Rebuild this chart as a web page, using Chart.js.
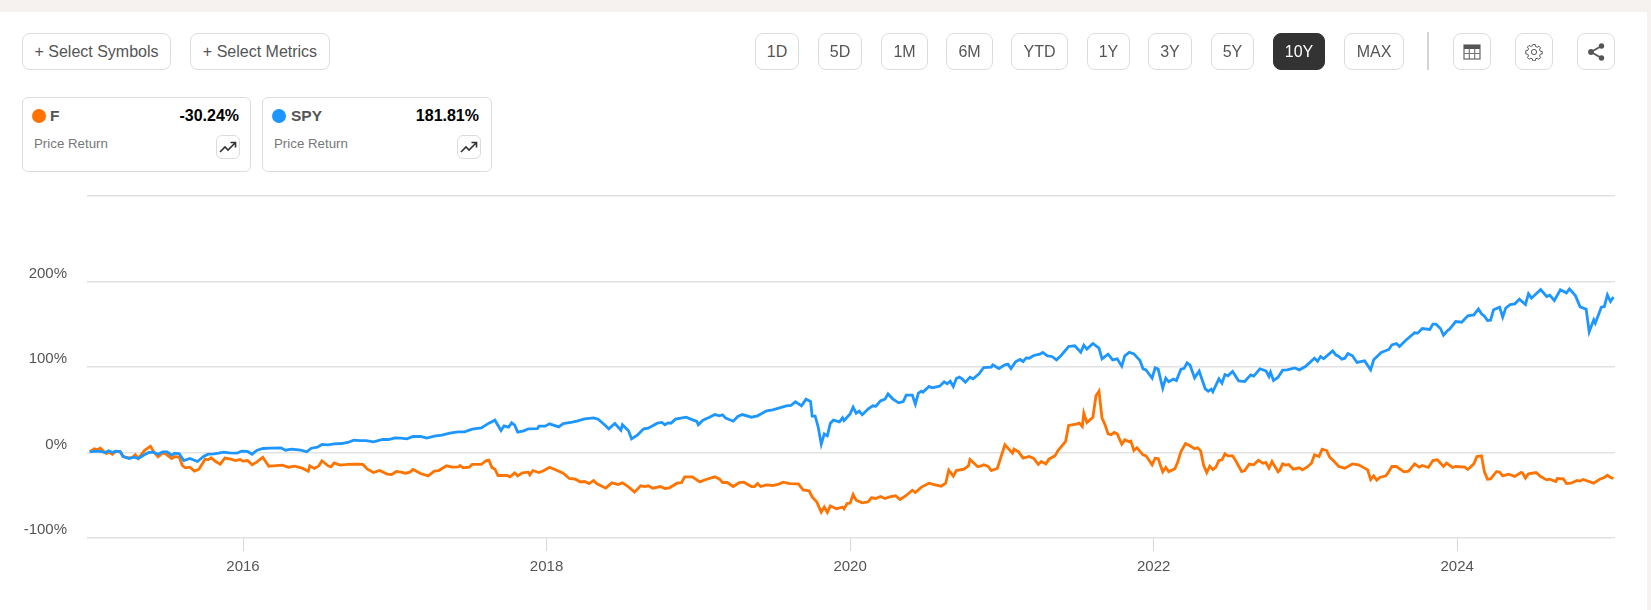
<!DOCTYPE html>
<html><head><meta charset="utf-8">
<style>
html,body{margin:0;padding:0;width:1651px;height:610px;overflow:hidden;background:#f5f2f0;font-family:"Liberation Sans",Arial,sans-serif;}
#panel{position:absolute;left:0;top:12px;width:1647px;height:598px;background:#fff;}
canvas{position:absolute;left:0;top:0;}
.b{position:absolute;top:33px;height:37px;box-sizing:border-box;border:1px solid #dcdcdc;border-radius:8px;display:flex;align-items:center;justify-content:center;color:#555;font-size:16px;background:#fff;white-space:nowrap;}
.b.on{background:#333;border-color:#333;color:#fff;}
.sep{position:absolute;left:1427px;top:32px;width:2px;height:38px;background:#d5d5d5;}
.card{position:absolute;top:97px;height:75px;box-sizing:border-box;border:1px solid #dcdcdc;border-radius:6px;background:#fff;}
.dot{position:absolute;width:14px;height:14px;border-radius:50%;top:11px;}
.sym{position:absolute;top:9px;font-size:15.5px;font-weight:bold;color:#555;line-height:18px;}
.val{position:absolute;top:9px;right:11px;font-size:16px;font-weight:bold;color:#000;line-height:18px;}
.sub{position:absolute;top:38px;font-size:13.3px;color:#777;line-height:16px;}
.ic{position:absolute;top:37px;right:10px;width:24px;height:24px;box-sizing:border-box;border:1px solid #dcdcdc;border-radius:6px;display:flex;align-items:center;justify-content:center;}
</style></head><body>
<div id="panel"></div>
<canvas id="c" width="1651" height="610"></canvas>
<div class="b" style="left:22px;width:149px">+ Select Symbols</div>
<div class="b" style="left:190px;width:140px">+ Select Metrics</div>
<div class="b" style="left:755px;width:44px">1D</div>
<div class="b" style="left:818px;width:44px">5D</div>
<div class="b" style="left:881px;width:47px">1M</div>
<div class="b" style="left:946px;width:47px">6M</div>
<div class="b" style="left:1011px;width:57px">YTD</div>
<div class="b" style="left:1087px;width:43px">1Y</div>
<div class="b" style="left:1148px;width:44px">3Y</div>
<div class="b" style="left:1211px;width:43px">5Y</div>
<div class="b on" style="left:1273px;width:52px">10Y</div>
<div class="b" style="left:1344px;width:60px">MAX</div>
<div class="sep"></div>
<div class="b" style="left:1453px;width:38px"><svg width="18" height="18" viewBox="0 0 18 18"><rect x="1" y="2" width="16" height="14" fill="none" stroke="#666" stroke-width="1.2"/><rect x="1" y="2" width="16" height="4" fill="#555"/><path d="M1 10.5H17M6.3 6V16M11.7 6V16" stroke="#777" stroke-width="1.2"/></svg></div>
<div class="b" style="left:1515px;width:38px"><svg width="18" height="18" viewBox="0 0 18 18"><circle cx="9" cy="9" r="2.6" fill="none" stroke="#555" stroke-width="1"/><path d="M7.8 1.5h2.4l.4 2 1.6.7 1.7-1.1 1.7 1.7-1.1 1.7.7 1.6 2 .4v2.4l-2 .4-.7 1.6 1.1 1.7-1.7 1.7-1.7-1.1-1.6.7-.4 2H7.8l-.4-2-1.6-.7-1.7 1.1-1.7-1.7 1.1-1.7-.7-1.6-2-.4V7.8l2-.4.7-1.6-1.1-1.7 1.7-1.7 1.7 1.1 1.6-.7z" fill="none" stroke="#555" stroke-width="1"/></svg></div>
<div class="b" style="left:1577px;width:38px"><svg width="20" height="20" viewBox="0 0 20 20"><path d="M15.5 4L5 10l10.5 6" fill="none" stroke="#555" stroke-width="1.8"/><circle cx="15.5" cy="4" r="2.7" fill="#555"/><circle cx="5" cy="10" r="2.9" fill="#555"/><circle cx="15.5" cy="16" r="2.7" fill="#555"/></svg></div>
<div class="card" style="left:22px;width:229px">
<div class="dot" style="left:9px;background:#ff7300"></div><div class="sym" style="left:27px">F</div><div class="val">-30.24%</div><div class="sub" style="left:11px">Price Return</div>
<div class="ic"><svg width="18" height="14" viewBox="0 0 18 14"><path d="M1 12l5-5 3 3 7-7M11.5 2.5H16.5V7.5" fill="none" stroke="#333" stroke-width="1.6"/></svg></div></div>
<div class="card" style="left:262px;width:230px">
<div class="dot" style="left:9px;background:#1e96ff"></div><div class="sym" style="left:28px">SPY</div><div class="val" style="right:12px">181.81%</div><div class="sub" style="left:11px">Price Return</div>
<div class="ic"><svg width="18" height="14" viewBox="0 0 18 14"><path d="M1 12l5-5 3 3 7-7M11.5 2.5H16.5V7.5" fill="none" stroke="#333" stroke-width="1.6"/></svg></div></div>
<script src="https://cdn.jsdelivr.net/npm/chart.js@4/dist/chart.umd.min.js"></script>
<script>
const seriesNames=["F","SPY"];
const yTickValues=[-100,0,100,200,300];
const xTickYears=[2016,2018,2020,2022,2024];
const spyYears=[2014.99,2015.03,2015.06,2015.09,2015.115,2015.14,2015.16,2015.19,2015.21,2015.25,2015.28,2015.31,2015.35,2015.38,2015.41,2015.44,2015.47,2015.50,2015.53,2015.55,2015.58,2015.61,2015.65,2015.70,2015.74,2015.77,2015.81,2015.84,2015.87,2015.91,2015.96,2015.99,2016.03,2016.06,2016.09,2016.13,2016.18,2016.25,2016.28,2016.32,2016.38,2016.42,2016.45,2016.49,2016.52,2016.56,2016.60,2016.65,2016.69,2016.73,2016.77,2016.81,2016.86,2016.92,2016.96,2017.00,
2017.04,2017.08,2017.12,2017.17,2017.21,2017.26,2017.31,2017.37,2017.42,2017.46,2017.51,2017.57,2017.62,2017.66,2017.70,2017.72,2017.75,2017.77,2017.79,2017.81,2017.85,2017.88,2017.94,2017.95,2017.99,2018.02,2018.08,2018.11,2018.17,2018.20,2018.25,2018.31,2018.34,2018.38,2018.41,2018.45,2018.49,2018.50,2018.54,2018.56,2018.60,2018.64,2018.67,2018.73,2018.76,2018.78,2018.80,2018.82,2018.85,2018.92,2018.95,2018.99,2019.00,2019.03,2019.07,2019.11,2019.14,
2019.16,2019.18,2019.23,2019.26,2019.29,2019.35,2019.39,2019.45,2019.49,2019.53,2019.58,2019.61,2019.64,2019.68,2019.71,2019.74,2019.75,2019.77,2019.79,2019.81,2019.83,2019.85,2019.87,2019.89,2019.93,2019.95,2019.96,2020.00,2020.02,2020.04,2020.06,2020.08,2020.12,2020.15,2020.17,2020.20,2020.23,2020.25,2020.28,2020.32,2020.35,2020.37,2020.41,2020.43,2020.45,2020.47,2020.48,2020.52,2020.54,2020.59,2020.62,2020.64,2020.66,2020.68,2020.70,2020.72,2020.74,2020.76,2020.79,2020.81,2020.85,2020.88,2020.93,2020.94,2020.98,2021.02,2021.04,2021.06,2021.09,2021.12,2021.14,2021.16,2021.18,2021.21,2021.25,
2021.27,2021.30,2021.33,2021.36,2021.39,2021.44,2021.48,2021.52,2021.54,2021.56,2021.60,2021.64,2021.66,2021.70,2021.73,2021.76,2021.79,2021.81,2021.84,2021.87,2021.91,2021.93,2021.95,2021.99,2022.01,2022.03,2022.06,2022.08,2022.10,2022.13,2022.15,2022.18,2022.20,2022.22,2022.24,2022.27,2022.30,2022.34,2022.36,2022.38,2022.39,2022.43,2022.45,2022.47,2022.49,2022.52,2022.56,2022.60,2022.64,2022.66,2022.70,2022.74,2022.76,2022.77,2022.79,2022.82,2022.85,2022.88,2022.93,2022.96,2023.00,2023.06,2023.08,2023.10,2023.12,2023.18,2023.20,
2023.22,2023.24,2023.26,2023.28,2023.31,2023.34,2023.39,2023.43,2023.45,2023.50,2023.55,2023.57,2023.60,2023.62,2023.66,2023.72,2023.74,2023.77,2023.82,2023.84,2023.86,2023.89,2023.91,2023.94,2023.95,2023.99,2024.03,2024.07,2024.11,2024.14,2024.16,2024.18,2024.20,2024.22,2024.24,2024.28,2024.30,2024.32,2024.35,2024.38,2024.41,2024.45,2024.47,2024.49,2024.55,2024.59,2024.61,2024.64,2024.68,2024.72,2024.74,2024.78,2024.81,2024.85,2024.87,2024.90,2024.91,2024.95,2024.97,2024.99,2025.01,2025.03];
const spyValues=[.8,1.6,1.2,0,2,0,1.6,1.2,-4.7,-7,-5.5,-7,-2.7,0,.4,-2,.8,.8,-3.1,-.8,-1.6,-9.4,-7,-10.5,-4.7,-2,-1.6,-.8,.4,-.4,-.8,1.6,1.2,-2,2.3,4.7,5,5.5,2.7,3.9,2.7,.8,5,6.2,9.4,9,10,10.5,11.7,14.4,14,14,12.5,15.2,15.2,17.2,
16.8,16,18.7,18.7,16.8,19.1,20.3,23,24.2,24.2,27.3,28.8,34.3,37.8,25.7,31.2,29.6,34.7,32,23.8,25.3,27.7,28,30.8,30.8,33.5,30,33.9,35.5,36.6,39.4,40.5,39,32.7,27.7,33.9,26.1,32.4,25.3,16,20.7,27.7,28.5,34.3,35.1,32.4,34.7,34.3,39,41.3,39,36.3,32.4,37.8,40.9,44.4,42.9,
44.1,40.2,36.6,42.1,44.4,41.3,42.9,48.7,49.9,51.9,54.6,55,59.3,54.6,62.4,59.6,42.5,42.5,29.6,9.7,21.8,19.5,34.3,37.8,35.9,40.5,37.4,45.2,53,46,48.3,44.1,51.1,54.6,54.2,60.4,62.4,68.6,62.8,58.1,59.6,67.1,67.1,56.5,69.4,71.7,70.6,77.2,75.6,77.6,82.7,80.3,83.4,77.2,86.5,88.1,85.8,82.3,88.1,86.2,92,99.4,99.8,102.5,98.2,102.5,103.3,98.2,106,108.8,106.4,110.7,110.3,113.5,115,
117,113.1,112.3,108.4,113.5,124,124.8,117.3,125.5,120.9,127.5,122,109.6,115,108.4,109.6,101,113.1,117.3,115.4,107.6,97.9,96.7,86.9,99,97.5,75.2,86.9,82.7,85.8,84.2,97.5,98.2,104.9,102.1,87.3,95.1,74.5,71.7,74.1,71,86.2,81.1,91.2,89.7,94.7,83.8,83,90.8,89.3,97.9,95.5,88.9,94,84.2,88.1,96.3,96.7,99,96.7,100.6,110.3,106.8,112.3,109.6,118.9,114.2,
112.3,109.2,110.3,115.8,113.1,105.3,107.2,96.7,108.4,117,120.5,125.9,127.5,124,131,140,139.6,145,143.9,150.1,150.1,145,137.2,143.1,144.2,153.2,152.4,159.8,161,168,162.2,159.5,154.4,154.8,166.9,170,158.3,168.8,173.1,173.9,179.3,173.1,185.6,180.5,190.6,182.5,184,177.8,190.3,186.7,191.4,183.2,170.4,167.6,141.1,155.2,151.3,170,170.8,184.4,176.6,181.81];
const fYears=[2014.99,2015.02,2015.04,2015.06,2015.08,2015.10,2015.115,2015.14,2015.16,2015.19,2015.21,2015.25,2015.27,2015.29,2015.31,2015.35,2015.39,2015.41,2015.44,2015.47,2015.49,2015.53,2015.55,2015.58,2015.60,2015.62,2015.65,2015.68,2015.71,2015.75,2015.77,2015.79,2015.82,2015.85,2015.88,2015.92,2015.95,2015.98,2016.00,2016.03,2016.06,2016.09,2016.13,2016.17,2016.20,2016.26,2016.30,2016.34,2016.39,2016.43,2016.44,2016.47,2016.50,2016.52,2016.56,2016.58,2016.60,2016.64,2016.69,2016.75,2016.79,2016.82,2016.86,2016.90,2016.95,2016.98,2017.01,
2017.04,2017.07,2017.10,2017.12,2017.17,2017.22,2017.26,2017.29,2017.34,2017.38,2017.42,2017.43,2017.45,2017.49,2017.51,2017.57,2017.60,2017.62,2017.64,2017.66,2017.68,2017.74,2017.76,2017.79,2017.81,2017.84,2017.88,2017.89,2017.91,2017.95,2017.98,2018.02,2018.07,2018.11,2018.15,2018.19,2018.22,2018.25,2018.28,2018.31,2018.33,2018.39,2018.43,2018.47,2018.50,2018.54,2018.58,2018.62,2018.65,2018.67,2018.70,2018.75,2018.78,2018.81,2018.86,2018.89,2018.91,2018.96,2019.01,2019.05,2019.11,2019.14,
2019.16,2019.19,2019.23,2019.27,2019.30,2019.35,2019.37,2019.39,2019.41,2019.45,2019.49,2019.53,2019.56,2019.60,2019.66,2019.69,2019.73,2019.75,2019.78,2019.81,2019.83,2019.85,2019.87,2019.91,2019.95,2019.96,2019.98,2020.00,2020.02,2020.04,2020.08,2020.12,2020.14,2020.17,2020.20,2020.23,2020.26,2020.30,2020.33,2020.37,2020.41,2020.43,2020.47,2020.52,2020.56,2020.60,2020.63,2020.65,2020.68,2020.70,2020.75,2020.78,2020.79,2020.84,2020.86,2020.88,2020.91,2020.93,2020.97,2021.02,2021.07,2021.08,2021.11,2021.14,2021.18,2021.21,2021.24,
2021.26,2021.29,2021.31,2021.35,2021.37,2021.42,2021.44,2021.49,2021.51,2021.53,2021.54,2021.56,2021.60,2021.62,2021.64,2021.66,2021.68,2021.70,2021.72,2021.74,2021.76,2021.79,2021.81,2021.84,2021.85,2021.87,2021.89,2021.93,2021.95,2021.99,2022.01,2022.03,2022.06,2022.08,2022.10,2022.14,2022.16,2022.18,2022.21,2022.24,2022.27,2022.29,2022.31,2022.33,2022.35,2022.37,2022.39,2022.41,2022.43,2022.45,2022.47,2022.49,2022.52,2022.54,2022.58,2022.60,2022.63,2022.66,2022.69,2022.72,2022.74,2022.76,2022.78,2022.82,2022.83,2022.85,2022.87,2022.89,2022.92,2022.96,2022.98,2023.01,2023.04,2023.06,2023.09,2023.11,2023.14,2023.16,2023.19,
2023.22,2023.26,2023.28,2023.31,2023.35,2023.39,2023.41,2023.43,2023.45,2023.47,2023.49,2023.53,2023.55,2023.57,2023.60,2023.65,2023.68,2023.72,2023.75,2023.77,2023.81,2023.84,2023.87,2023.91,2023.93,2023.97,2023.99,2024.05,2024.07,2024.11,2024.13,2024.16,2024.18,2024.20,2024.22,2024.26,2024.28,2024.30,2024.34,2024.38,2024.42,2024.43,2024.45,2024.47,2024.52,2024.55,2024.59,2024.61,2024.65,2024.66,2024.70,2024.72,2024.75,2024.79,2024.81,2024.83,2024.90,2024.94,2024.97,2024.99,2025.01,2025.03];
const fValues=[.8,4.3,3.5,5,1.6,-1.2,.4,-2,1.2,1.2,-4.7,-6.2,-5.8,-2.7,-7,2.3,7.4,1.2,-5,-.8,-1.6,-7,-4.7,-5.5,-15.2,-17.9,-17.2,-21.8,-19.5,-7.8,-8.6,-6.2,-10.5,-13.6,-6.6,-7.8,-9.4,-8.2,-10.1,-9.4,-14.4,-11.3,-5.5,-16,-15.6,-14.8,-17.2,-16,-18.3,-21.8,-15.6,-18.7,-15.6,-9.7,-15.6,-16.8,-12.1,-14.8,-14,-13.6,-14,-19.5,-23.4,-21,-25.3,-25.7,-22.2,
-23,-24.2,-23,-19.9,-24.6,-27.3,-21.8,-21.1,-15.6,-17.2,-16.8,-15.2,-17.9,-17.2,-14,-14,-9.7,-9,-17.5,-19.5,-26.9,-26.9,-28.5,-23.8,-27.3,-23.8,-23,-26.1,-21.1,-23.4,-21.4,-17.2,-21.1,-24.2,-30.4,-31.2,-34.3,-33.9,-36.3,-32.7,-36.3,-41.7,-35.5,-37.4,-35.5,-40.2,-46.4,-39,-39.8,-39,-41.7,-39.8,-42.1,-41.3,-35.9,-35.1,-28.5,-28.5,-34.3,-31.6,-28.5,-31.2,
-35.1,-35.1,-39.8,-35.1,-34.7,-39.8,-39.8,-36.3,-39.8,-37.8,-38.6,-37,-34.7,-36.3,-36.6,-43.7,-44.8,-51.9,-57.7,-69.8,-63.9,-70.2,-62.4,-65.9,-63.9,-65.9,-59.6,-59.3,-49.1,-55.8,-58.9,-57.7,-53,-53.8,-51.5,-53.8,-51.9,-50.7,-55,-50.3,-44.1,-46.8,-40.5,-35.9,-37.8,-39.4,-35.9,-20.7,-27.7,-21.1,-19.5,-15.6,-8.2,-16.4,-16,-14.4,-16.4,-21.1,-18.7,9,-.8,3.9,.8,-6.6,-4.7,-7,-14,
-10.5,-13.3,-7.8,-3.9,2.3,12.9,31.6,33.1,34.3,30.4,46,35.1,41.3,66.3,71.7,40.2,32.4,21.8,20.7,23.4,21.8,9.7,14.8,12.5,13.3,2.3,5.5,-2.7,-3.9,-14.4,-6.6,-7,-22.6,-17.5,-22.6,-19.1,-10.5,1.2,10.5,7.8,4.3,5.5,1.9,-15.2,-23.4,-16,-19.9,-17.2,-9.4,-8.6,-1.6,-3.9,-3.9,-9.4,-22.2,-21.1,-13.6,-14.4,-9,-12.5,-11.7,-18.3,-10.5,-22.6,-21.1,-13.3,-14.8,-14,-19.5,-17.9,-20.3,-17.2,-12.5,-2.7,-4.7,3.9,2.3,-5.5,-10.5,
-16.4,-18.3,-16.4,-13.3,-14.4,-18.3,-20.3,-31.6,-27.3,-32.4,-29.2,-27.3,-22.2,-16.4,-16.4,-22.6,-21.8,-13.3,-17.2,-15.2,-17.5,-9.4,-8.6,-16.4,-12.5,-17.5,-16.4,-17.2,-19.9,-13.3,-4.7,-3.9,-23,-31.2,-30.8,-22.2,-23,-27.3,-25.3,-28.1,-23.4,-23.8,-30,-25,-23.4,-28.1,-32,-31.2,-33.9,-30.4,-30.8,-36.3,-35.9,-32.7,-33.5,-31.6,-35.9,-31.2,-29.2,-26.5,-29.2,-30.24];
const zip=(xs,ys)=>xs.map((x,i)=>({x,y:ys[i]}));
const font={family:'"Liberation Sans",Arial,sans-serif',size:15};
new Chart(document.getElementById('c'),{
  type:'line',
  data:{datasets:[
    {label:seriesNames[0],data:zip(fYears,fValues),borderColor:'#ff7300',backgroundColor:'#ff7300',borderWidth:2.8,pointRadius:0,tension:0,order:2},
    {label:seriesNames[1],data:zip(spyYears,spyValues),borderColor:'#1e96ff',backgroundColor:'#1e96ff',borderWidth:2.8,pointRadius:0,tension:0,order:1}
  ]},
  options:{
    responsive:false,animation:false,
    layout:{padding:{top:196,right:36,bottom:0,left:0}},
    plugins:{legend:{display:false},tooltip:{enabled:false}},
    scales:{
      x:{type:'linear',min:2014.972,max:2025.04,
        afterBuildTicks(s){s.ticks=xTickYears.map(v=>({value:v}));},
        afterFit(s){s.height=72;},
        grid:{drawOnChartArea:false,drawTicks:true,tickLength:13,color:'#d9d9d9',lineWidth:1},
        border:{display:false},
        ticks:{color:'#555',font,padding:7,maxRotation:0,autoSkip:false,callback:v=>String(v)}},
      y:{type:'linear',min:-100,max:300,
        afterBuildTicks(s){s.ticks=yTickValues.map(v=>({value:v}));},
        afterFit(s){s.width=87;},
        grid:{color:'#e2e2e2',lineWidth:1.5,drawTicks:false},
        border:{display:false},
        ticks:{color:'#555',font,padding:20,labelOffset:-8,callback:v=>v===300?'':v+'%'}}
    }
  }
});
</script>
</body></html>
